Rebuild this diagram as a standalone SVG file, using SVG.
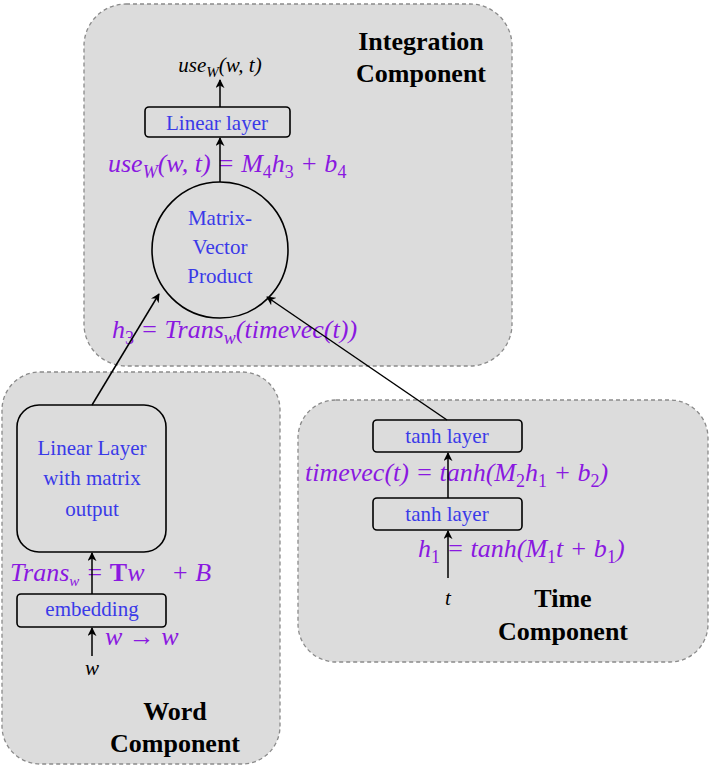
<svg xmlns="http://www.w3.org/2000/svg" width="713" height="766" viewBox="0 0 713 766">
<style>
.panel{fill:#dcdcdc;stroke:#8a8a8a;stroke-width:1.3;stroke-dasharray:4,3}
.box{fill:none;stroke:#000;stroke-width:1.6}
.bl{font-family:"Liberation Serif",serif;fill:#3a3ae8;font-size:21px;text-anchor:middle}
.pu{font-family:"Liberation Serif",serif;fill:#8a18e0;font-size:26px;font-style:italic}
.ti{font-family:"Liberation Serif",serif;font-weight:bold;font-size:26px;text-anchor:middle;fill:#000}
.it{font-family:"Liberation Serif",serif;font-style:italic;font-size:21px;fill:#000;text-anchor:middle}
.c{stroke:#000;stroke-width:1.5;fill:none;marker-end:url(#a)}
</style>
<defs><marker id="a" viewBox="0 0 10 10" refX="9" refY="5" markerWidth="9" markerHeight="9" orient="auto" markerUnits="userSpaceOnUse"><path d="M0,0L10,5L0,10L3,5z" fill="#000"/></marker></defs>
<g id="integration">
<rect class="panel" x="84" y="4" width="428" height="362" rx="42"/>
<text class="ti" x="421" y="50">Integration</text>
<text class="ti" x="421" y="82">Component</text>
<text class="it" x="220" y="72">use<tspan font-size="15" dy="5">W</tspan><tspan dy="-5">(w, t)</tspan></text>
</g>
<g id="linear">
<rect class="box" x="145" y="107" width="145" height="30" rx="4"/>
<text class="bl" x="217" y="130">Linear layer</text>
<text class="pu" x="108" y="172">use<tspan font-size="18" dy="6">W</tspan><tspan dy="-6">(w, t) = M</tspan><tspan font-size="18" dy="6" font-style="normal">4</tspan><tspan dy="-6">h</tspan><tspan font-size="18" dy="6" font-style="normal">3</tspan><tspan dy="-6"> + b</tspan><tspan font-size="18" dy="6" font-style="normal">4</tspan></text>
</g>
<g id="mvp">
<circle cx="220" cy="250" r="68" fill="none" stroke="#000" stroke-width="1.6"/>
<text class="bl" x="220" y="225">Matrix-</text>
<text class="bl" x="220" y="254">Vector</text>
<text class="bl" x="220" y="283">Product</text>
<text class="pu" x="112" y="338">h<tspan font-size="18" dy="6" font-style="normal">3</tspan><tspan dy="-6"> = Trans</tspan><tspan font-size="18" dy="6">w</tspan><tspan dy="-6">(timevec(t))</tspan></text>
</g>
<g id="word">
<rect class="panel" x="2" y="372" width="278" height="392" rx="38"/>
<text class="ti" x="175" y="720">Word</text>
<text class="ti" x="175" y="752">Component</text>
<rect class="box" x="17" y="405" width="149" height="147" rx="22"/>
<text class="bl" x="92" y="455">Linear Layer</text>
<text class="bl" x="92" y="485">with matrix</text>
<text class="bl" x="92" y="516">output</text>
<text class="pu" x="10" y="581" font-size="22">Trans<tspan font-size="15" dy="5">w</tspan><tspan dy="-5"> = </tspan><tspan font-weight="bold" font-style="normal">T</tspan>w&#8407; + B</text>
<rect class="box" x="17" y="594" width="149" height="33" rx="4"/>
<text class="bl" x="92" y="616">embedding</text>
<text class="pu" x="105" y="645" font-size="24">w → w&#8407;</text>
<text class="it" x="92" y="675">w</text>
</g>
<g id="time">
<rect class="panel" x="298" y="400" width="410" height="262" rx="38"/>
<text class="ti" x="563" y="607">Time</text>
<text class="ti" x="563" y="640">Component</text>
<rect class="box" x="373" y="420" width="149" height="32" rx="4"/>
<text class="bl" x="447" y="443">tanh layer</text>
<text class="pu" x="305" y="481">timevec(t) = tanh(M<tspan font-size="18" dy="6" font-style="normal">2</tspan><tspan dy="-6">h</tspan><tspan font-size="18" dy="6" font-style="normal">1</tspan><tspan dy="-6"> + b</tspan><tspan font-size="18" dy="6" font-style="normal">2</tspan><tspan dy="-6">)</tspan></text>
<rect class="box" x="373" y="498" width="149" height="32" rx="4"/>
<text class="bl" x="447" y="521">tanh layer</text>
<text class="pu" x="418" y="557">h<tspan font-size="18" dy="6" font-style="normal">1</tspan><tspan dy="-6"> = tanh(M</tspan><tspan font-size="18" dy="6" font-style="normal">1</tspan><tspan dy="-6">t + b</tspan><tspan font-size="18" dy="6" font-style="normal">1</tspan><tspan dy="-6">)</tspan></text>
<text class="it" x="448" y="605">t</text>
</g>
<g id="connectors">
<line class="c" x1="220" y1="107" x2="220" y2="80"/>
<line class="c" x1="220" y1="182" x2="220" y2="138"/>
<line class="c" x1="92" y1="405" x2="159" y2="294"/>
<line class="c" x1="447" y1="420" x2="267" y2="297"/>
<line class="c" x1="92" y1="594" x2="92" y2="553"/>
<line class="c" x1="92" y1="656" x2="92" y2="628"/>
<line class="c" x1="448" y1="498" x2="448" y2="453"/>
<line class="c" x1="448" y1="578" x2="448" y2="531"/>
</g>
</svg>
